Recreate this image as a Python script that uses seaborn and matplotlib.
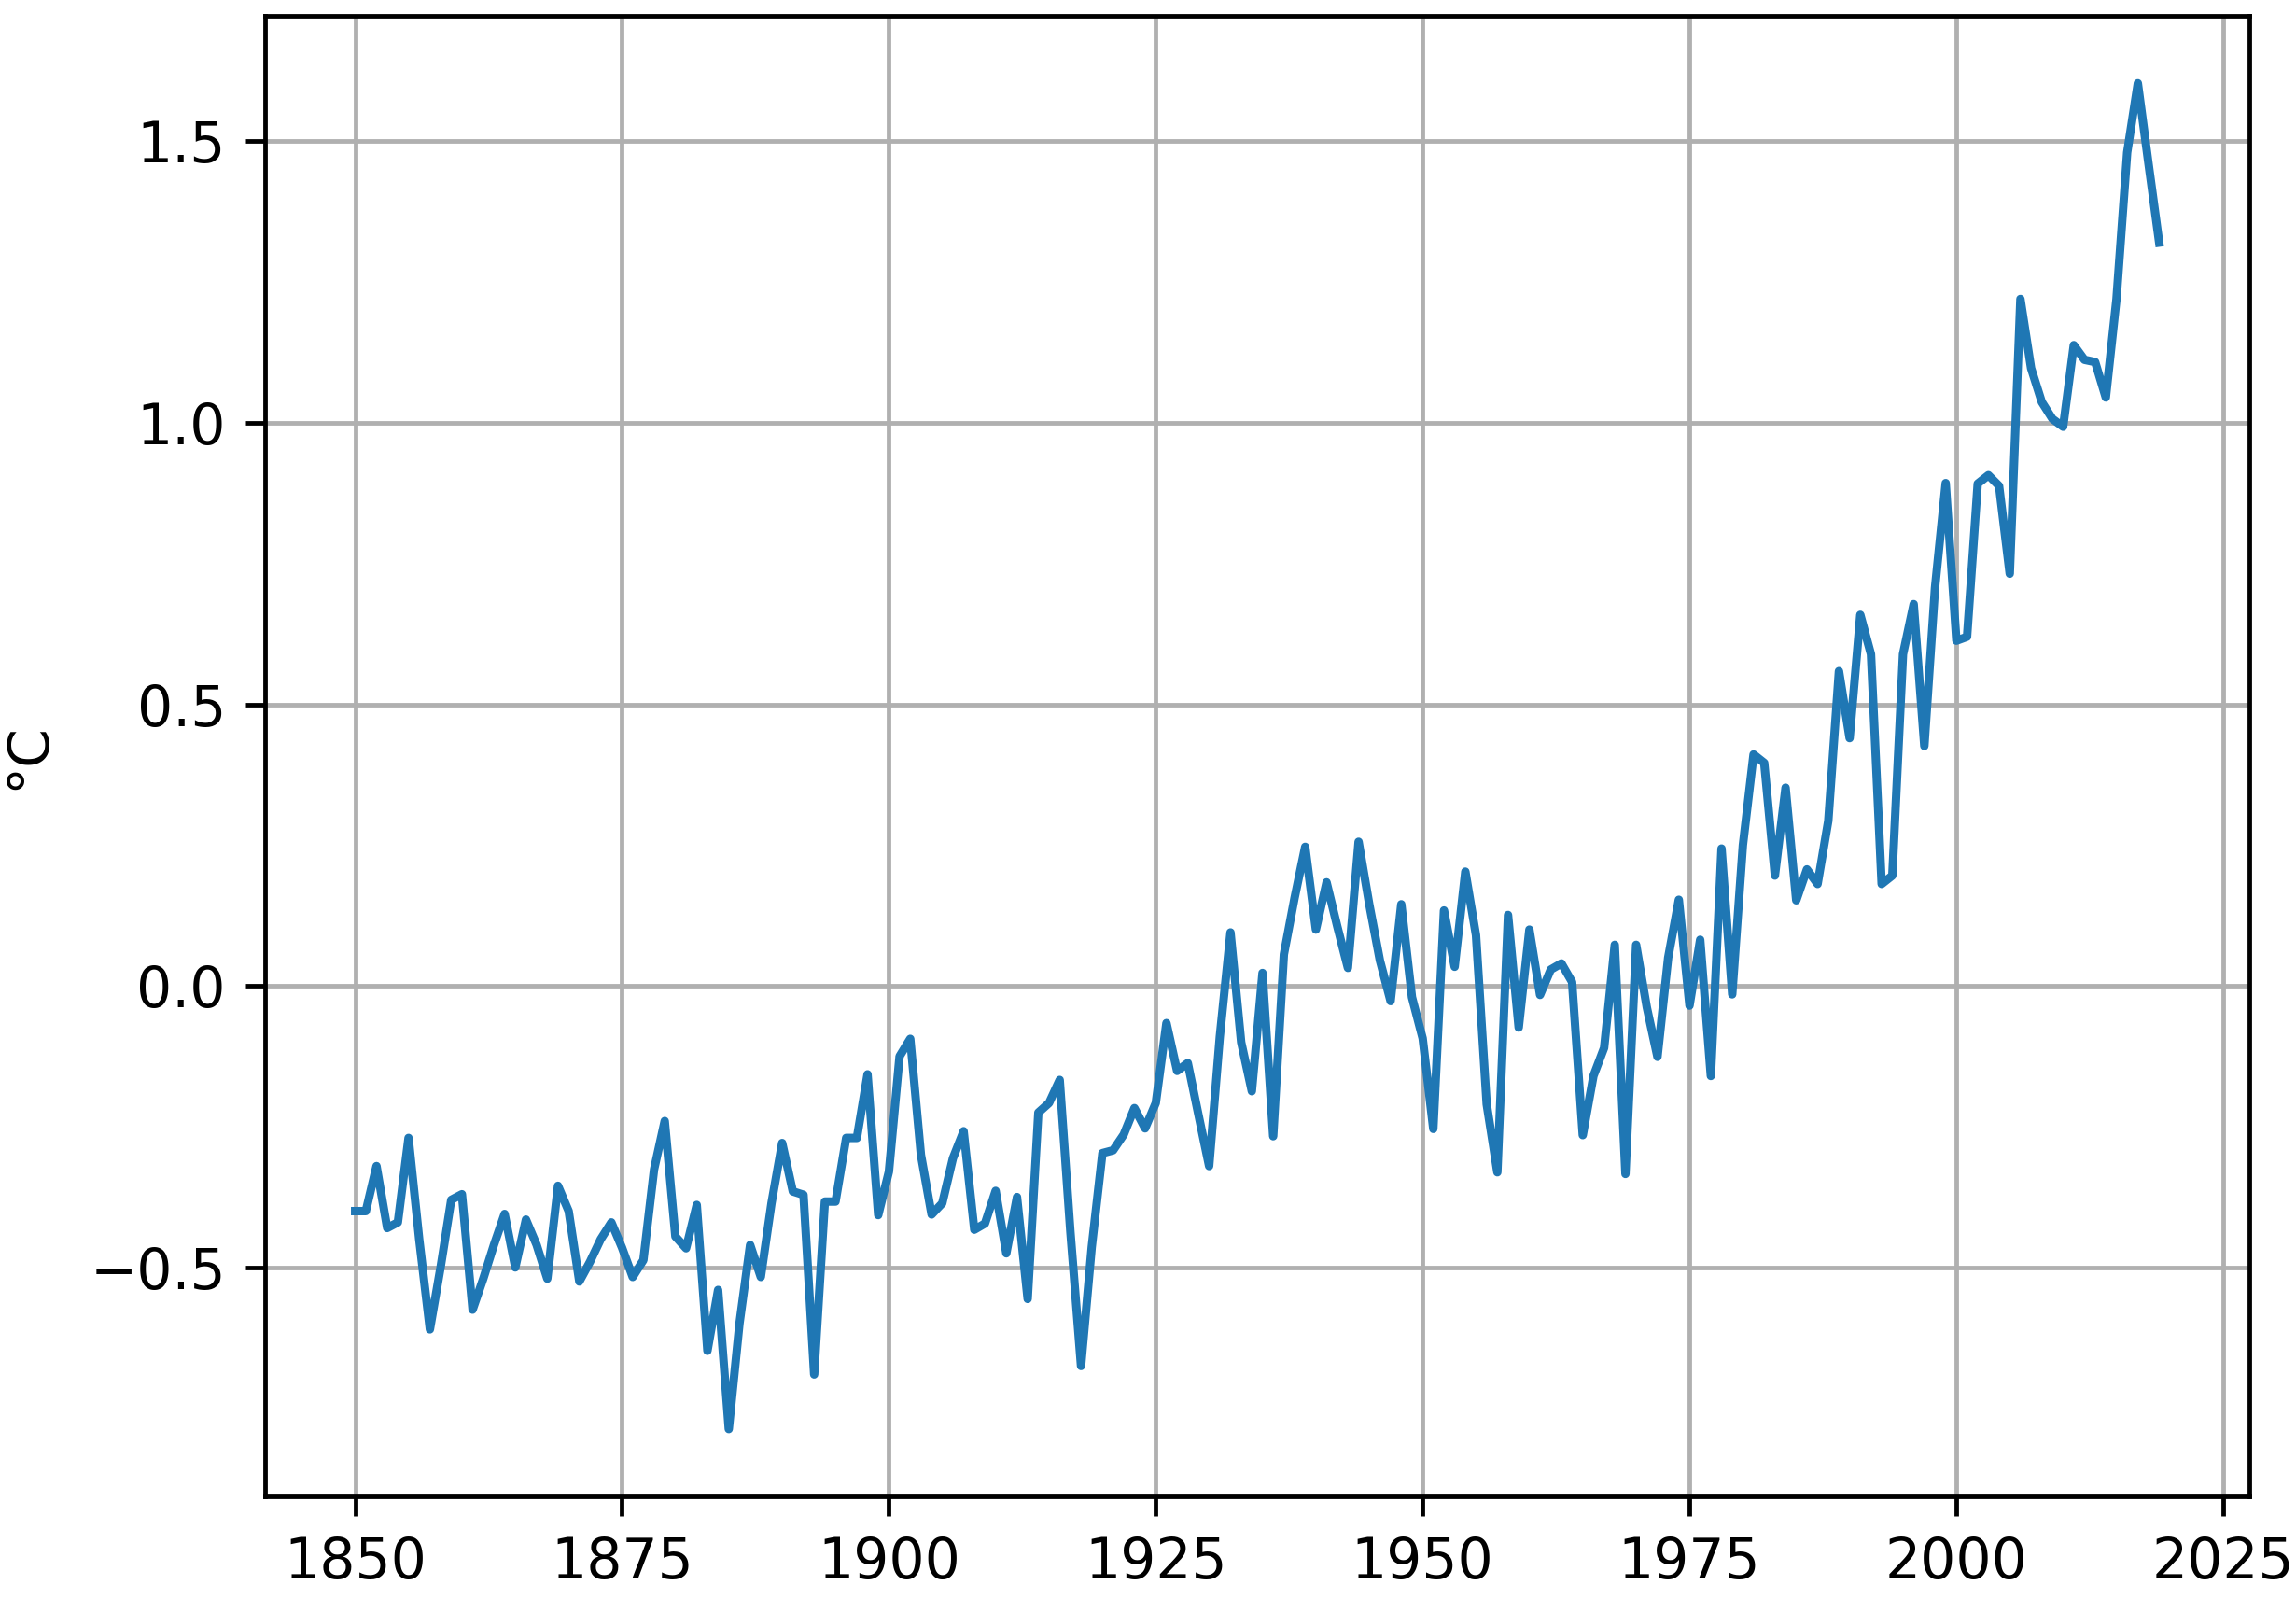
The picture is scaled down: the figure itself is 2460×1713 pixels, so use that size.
import matplotlib
matplotlib.use("agg")
from matplotlib import pyplot as plt
import numpy as np
import seaborn as sns

# annual temperature anomaly, 1850-2019
years = np.arange(1850, 2020)
anomaly = [
    -0.40, -0.40, -0.32, -0.43, -0.42, -0.27, -0.45, -0.61, -0.50, -0.38,   # 1850s
    -0.37, -0.575, -0.52, -0.46, -0.405, -0.50, -0.415, -0.46, -0.52, -0.355,  # 1860s
    -0.40, -0.525, -0.49, -0.45, -0.42, -0.465, -0.517, -0.487, -0.326, -0.24,  # 1870s
    -0.445, -0.466, -0.389, -0.648, -0.54, -0.787, -0.60, -0.46, -0.517, -0.386,  # 1880s
    -0.279, -0.365, -0.371, -0.69, -0.383, -0.383, -0.27, -0.27, -0.157, -0.407,  # 1890s
    -0.33, -0.125, -0.094, -0.30, -0.406, -0.386, -0.306, -0.258, -0.433, -0.422,  # 1900s
    -0.364, -0.475, -0.375, -0.556, -0.225, -0.208, -0.167, -0.436, -0.675, -0.464,  # 1910s
    -0.297, -0.292, -0.264, -0.217, -0.253, -0.208, -0.066, -0.151, -0.137, -0.229,  # 1920s
    -0.32, -0.09, 0.095, -0.10, -0.187, 0.023, -0.267, 0.056, 0.156, 0.247,  # 1930s
    0.10, 0.184, 0.106, 0.032, 0.256, 0.145, 0.045, -0.027, 0.145, -0.02,  # 1940s
    -0.093, -0.254, 0.134, 0.034, 0.203, 0.09, -0.21, -0.331, 0.126, -0.074,  # 1950s
    0.10, -0.016, 0.029, 0.04, 0.007, -0.265, -0.16, -0.11, 0.073, -0.334,  # 1960s
    0.073, -0.038, -0.126, 0.05, 0.153, -0.035, 0.082, -0.16, 0.244, -0.015,  # 1970s
    0.25, 0.411, 0.396, 0.196, 0.352, 0.152, 0.207, 0.181, 0.293, 0.559,  # 1980s
    0.44, 0.659, 0.589, 0.181, 0.196, 0.589, 0.678, 0.426, 0.707, 0.893,  # 1990s
    0.613, 0.62, 0.892, 0.907, 0.888, 0.732, 1.22, 1.097, 1.037, 1.007,  # 2000s
    0.993, 1.138, 1.112, 1.108, 1.045, 1.22, 1.48, 1.603, 1.46, 1.32,  # 2010s
]

fig = plt.figure(figsize=(2460 / 432, 1713 / 432), dpi=432)
ax = fig.add_axes([0.1154, 0.0642, 0.9797 - 0.1154, 0.990 - 0.0642])

sns.lineplot(x=years, y=anomaly, color="#1f77b4", linewidth=1.5, ax=ax)

ax.set_ylabel("°C", labelpad=6)
ax.grid(True)

plt.savefig("out.png", dpi=432)
